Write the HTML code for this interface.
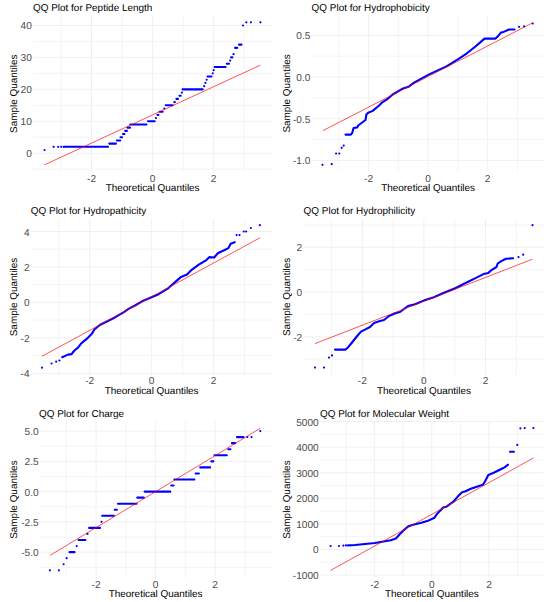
<!DOCTYPE html><html><head><meta charset="utf-8"><style>html,body{margin:0;padding:0;background:#fff;}svg{display:block;}text{font-family:"Liberation Sans",sans-serif;text-rendering:geometricPrecision;}</style></head><body>
<svg width="550" height="602" viewBox="0 0 550 602"><rect width="550" height="602" fill="#fff"/>
<line x1="60.98" y1="15.2" x2="60.98" y2="172.3" stroke="#f3f3f3" stroke-width="0.9"/>
<line x1="122.06" y1="15.2" x2="122.06" y2="172.3" stroke="#f3f3f3" stroke-width="0.9"/>
<line x1="183.14" y1="15.2" x2="183.14" y2="172.3" stroke="#f3f3f3" stroke-width="0.9"/>
<line x1="244.22" y1="15.2" x2="244.22" y2="172.3" stroke="#f3f3f3" stroke-width="0.9"/>
<line x1="33" y1="169.16" x2="272.3" y2="169.16" stroke="#f3f3f3" stroke-width="0.9"/>
<line x1="33" y1="137.23" x2="272.3" y2="137.23" stroke="#f3f3f3" stroke-width="0.9"/>
<line x1="33" y1="105.3" x2="272.3" y2="105.3" stroke="#f3f3f3" stroke-width="0.9"/>
<line x1="33" y1="73.37" x2="272.3" y2="73.37" stroke="#f3f3f3" stroke-width="0.9"/>
<line x1="33" y1="41.44" x2="272.3" y2="41.44" stroke="#f3f3f3" stroke-width="0.9"/>
<line x1="91.52" y1="15.2" x2="91.52" y2="172.3" stroke="#f0f0f0" stroke-width="1.0"/>
<line x1="152.6" y1="15.2" x2="152.6" y2="172.3" stroke="#f0f0f0" stroke-width="1.0"/>
<line x1="213.68" y1="15.2" x2="213.68" y2="172.3" stroke="#f0f0f0" stroke-width="1.0"/>
<line x1="33" y1="153.2" x2="272.3" y2="153.2" stroke="#f0f0f0" stroke-width="1.0"/>
<line x1="33" y1="121.27" x2="272.3" y2="121.27" stroke="#f0f0f0" stroke-width="1.0"/>
<line x1="33" y1="89.34" x2="272.3" y2="89.34" stroke="#f0f0f0" stroke-width="1.0"/>
<line x1="33" y1="57.41" x2="272.3" y2="57.41" stroke="#f0f0f0" stroke-width="1.0"/>
<line x1="33" y1="25.48" x2="272.3" y2="25.48" stroke="#f0f0f0" stroke-width="1.0"/>
<text x="31.8" y="157.19" text-anchor="end" fill="#4d4d4d" font-size="10.1">0</text>
<text x="31.8" y="125.26" text-anchor="end" fill="#4d4d4d" font-size="10.1">10</text>
<text x="31.8" y="93.33" text-anchor="end" fill="#4d4d4d" font-size="10.1">20</text>
<text x="31.8" y="61.4" text-anchor="end" fill="#4d4d4d" font-size="10.1">30</text>
<text x="31.8" y="29.47" text-anchor="end" fill="#4d4d4d" font-size="10.1">40</text>
<text x="91.52" y="181.6" text-anchor="middle" fill="#4d4d4d" font-size="10.1">-2</text>
<text x="152.6" y="181.6" text-anchor="middle" fill="#4d4d4d" font-size="10.1">0</text>
<text x="213.68" y="181.6" text-anchor="middle" fill="#4d4d4d" font-size="10.1">2</text>
<text x="33" y="11.2" font-size="9.95" fill="#000">QQ Plot for Peptide Length</text>
<text x="152.65" y="191.3" text-anchor="middle" font-size="9.95" fill="#000">Theoretical Quantiles</text>
<text transform="translate(17.3,93.75) rotate(-90)" text-anchor="middle" font-size="9.95" fill="#000">Sample Quantiles</text>
<g fill="#0000ff"><circle cx="44.49" cy="150.01" r="1.1"/>
<circle cx="53.65" cy="146.81" r="1.1"/>
<circle cx="58.23" cy="146.81" r="1.1"/>
<circle cx="61.29" cy="146.81" r="1.1"/>
<circle cx="63.73" cy="146.81" r="1.1"/>
<circle cx="243" cy="25.48" r="1.1"/>
<circle cx="246.36" cy="22.29" r="1.1"/>
<circle cx="250.94" cy="22.29" r="1.1"/>
<circle cx="260.41" cy="22.29" r="1.1"/>
<circle cx="204.21" cy="86.15" r="1.1"/>
<circle cx="205.43" cy="82.95" r="1.1"/>
<circle cx="230.17" cy="60.6" r="1.1"/>
<circle cx="233.53" cy="54.22" r="1.1"/>
<circle cx="155.96" cy="118.08" r="1.1"/>
<circle cx="164.21" cy="108.5" r="1.1"/>
<circle cx="181.92" cy="92.53" r="1.1"/>
<circle cx="212.76" cy="73.37" r="1.1"/>
<circle cx="213.68" cy="70.18" r="1.1"/>
<circle cx="206.66" cy="79.76" r="1.1"/>
<line x1="64.64" y1="146.81" x2="108.01" y2="146.81" stroke="#0000ff" stroke-width="2.1" stroke-linecap="round"/>
<line x1="109.23" y1="143.62" x2="115.95" y2="143.62" stroke="#0000ff" stroke-width="2.1" stroke-linecap="round"/>
<line x1="116.87" y1="140.43" x2="120.23" y2="140.43" stroke="#0000ff" stroke-width="2.1" stroke-linecap="round"/>
<line x1="120.53" y1="137.23" x2="122.06" y2="137.23" stroke="#0000ff" stroke-width="2.1" stroke-linecap="round"/>
<line x1="122.98" y1="134.04" x2="124.5" y2="134.04" stroke="#0000ff" stroke-width="2.1" stroke-linecap="round"/>
<line x1="125.11" y1="130.85" x2="126.95" y2="130.85" stroke="#0000ff" stroke-width="2.1" stroke-linecap="round"/>
<line x1="127.56" y1="127.66" x2="130" y2="127.66" stroke="#0000ff" stroke-width="2.1" stroke-linecap="round"/>
<line x1="130.31" y1="124.46" x2="146.49" y2="124.46" stroke="#0000ff" stroke-width="2.1" stroke-linecap="round"/>
<line x1="148.02" y1="121.27" x2="154.74" y2="121.27" stroke="#0000ff" stroke-width="2.1" stroke-linecap="round"/>
<line x1="157.49" y1="114.88" x2="158.4" y2="114.88" stroke="#0000ff" stroke-width="2.1" stroke-linecap="round"/>
<line x1="159.62" y1="111.69" x2="162.68" y2="111.69" stroke="#0000ff" stroke-width="2.1" stroke-linecap="round"/>
<line x1="165.73" y1="105.3" x2="172.76" y2="105.3" stroke="#0000ff" stroke-width="2.1" stroke-linecap="round"/>
<line x1="174.28" y1="102.11" x2="174.89" y2="102.11" stroke="#0000ff" stroke-width="2.1" stroke-linecap="round"/>
<line x1="176.42" y1="98.92" x2="177.95" y2="98.92" stroke="#0000ff" stroke-width="2.1" stroke-linecap="round"/>
<line x1="179.48" y1="95.73" x2="180.7" y2="95.73" stroke="#0000ff" stroke-width="2.1" stroke-linecap="round"/>
<line x1="182.53" y1="89.34" x2="202.69" y2="89.34" stroke="#0000ff" stroke-width="2.1" stroke-linecap="round"/>
<line x1="207.57" y1="76.57" x2="211.54" y2="76.57" stroke="#0000ff" stroke-width="2.1" stroke-linecap="round"/>
<line x1="214.6" y1="66.99" x2="225.59" y2="66.99" stroke="#0000ff" stroke-width="2.1" stroke-linecap="round"/>
<line x1="226.81" y1="63.8" x2="228.95" y2="63.8" stroke="#0000ff" stroke-width="2.1" stroke-linecap="round"/>
<line x1="231.09" y1="57.41" x2="232.31" y2="57.41" stroke="#0000ff" stroke-width="2.1" stroke-linecap="round"/>
<line x1="235.06" y1="47.83" x2="237.2" y2="47.83" stroke="#0000ff" stroke-width="2.1" stroke-linecap="round"/>
<line x1="239.03" y1="44.64" x2="241.47" y2="44.64" stroke="#0000ff" stroke-width="2.1" stroke-linecap="round"/></g>
<line x1="44.49" y1="164.82" x2="260.41" y2="65.11" stroke="#ff0000" stroke-width="0.9" stroke-opacity="0.75"/>
<line x1="338.73" y1="15.5" x2="338.73" y2="171.3" stroke="#f3f3f3" stroke-width="0.9"/>
<line x1="398.31" y1="15.5" x2="398.31" y2="171.3" stroke="#f3f3f3" stroke-width="0.9"/>
<line x1="457.89" y1="15.5" x2="457.89" y2="171.3" stroke="#f3f3f3" stroke-width="0.9"/>
<line x1="517.47" y1="15.5" x2="517.47" y2="171.3" stroke="#f3f3f3" stroke-width="0.9"/>
<line x1="311.6" y1="139.5" x2="544.6" y2="139.5" stroke="#f3f3f3" stroke-width="0.9"/>
<line x1="311.6" y1="97.83" x2="544.6" y2="97.83" stroke="#f3f3f3" stroke-width="0.9"/>
<line x1="311.6" y1="56.17" x2="544.6" y2="56.17" stroke="#f3f3f3" stroke-width="0.9"/>
<line x1="368.52" y1="15.5" x2="368.52" y2="171.3" stroke="#f0f0f0" stroke-width="1.0"/>
<line x1="428.1" y1="15.5" x2="428.1" y2="171.3" stroke="#f0f0f0" stroke-width="1.0"/>
<line x1="487.68" y1="15.5" x2="487.68" y2="171.3" stroke="#f0f0f0" stroke-width="1.0"/>
<line x1="311.6" y1="160.33" x2="544.6" y2="160.33" stroke="#f0f0f0" stroke-width="1.0"/>
<line x1="311.6" y1="118.66" x2="544.6" y2="118.66" stroke="#f0f0f0" stroke-width="1.0"/>
<line x1="311.6" y1="77" x2="544.6" y2="77" stroke="#f0f0f0" stroke-width="1.0"/>
<line x1="311.6" y1="35.34" x2="544.6" y2="35.34" stroke="#f0f0f0" stroke-width="1.0"/>
<text x="310.4" y="164.32" text-anchor="end" fill="#4d4d4d" font-size="10.1">-1.0</text>
<text x="310.4" y="122.65" text-anchor="end" fill="#4d4d4d" font-size="10.1">-0.5</text>
<text x="310.4" y="80.99" text-anchor="end" fill="#4d4d4d" font-size="10.1">0.0</text>
<text x="310.4" y="39.32" text-anchor="end" fill="#4d4d4d" font-size="10.1">0.5</text>
<text x="368.52" y="181.6" text-anchor="middle" fill="#4d4d4d" font-size="10.1">-2</text>
<text x="428.1" y="181.6" text-anchor="middle" fill="#4d4d4d" font-size="10.1">0</text>
<text x="487.68" y="181.6" text-anchor="middle" fill="#4d4d4d" font-size="10.1">2</text>
<text x="311.6" y="11.2" font-size="9.95" fill="#000">QQ Plot for Hydrophobicity</text>
<text x="428.1" y="191.3" text-anchor="middle" font-size="9.95" fill="#000">Theoretical Quantiles</text>
<text transform="translate(290,93.4) rotate(-90)" text-anchor="middle" font-size="9.95" fill="#000">Sample Quantiles</text>
<g fill="#0000ff"><circle cx="322.5" cy="164.8" r="1.1"/>
<circle cx="331.7" cy="164.2" r="1.1"/>
<circle cx="336.1" cy="153.5" r="1.1"/>
<circle cx="339.3" cy="153.5" r="1.1"/>
<circle cx="341.7" cy="147.8" r="1.1"/>
<circle cx="343.7" cy="145.6" r="1.1"/>
<circle cx="519.1" cy="26.8" r="1.1"/>
<circle cx="524" cy="26.3" r="1.1"/>
<circle cx="532.7" cy="23.5" r="1.1"/>
<polyline points="345.5,134.6 350.8,134.6 352.2,133 353.6,128 357.3,127.4 358.2,125.5 365.5,120 366.4,114.5 368.2,112.7 372.7,110.9 379.1,105.5 381.8,102.7 387.3,99.1 392.7,94.5 401.8,89.1 409.1,86.4 412.7,83.6 414.5,82.4 429.1,74.4 446.5,66.4 458.2,59.1 466.9,53.3 474.5,47.2 480,42.6 484.5,38.6 495.5,38.6 498.2,35.9 500.9,32.6 503.6,31.9 509.1,29.5 514.5,29.5" fill="none" stroke="#0000ff" stroke-width="2.1" stroke-linecap="round" stroke-linejoin="round"/></g>
<line x1="323" y1="130.6" x2="532.7" y2="22.8" stroke="#ff0000" stroke-width="0.9" stroke-opacity="0.75"/>
<line x1="58.74" y1="218.8" x2="58.74" y2="375.3" stroke="#f3f3f3" stroke-width="0.9"/>
<line x1="120.68" y1="218.8" x2="120.68" y2="375.3" stroke="#f3f3f3" stroke-width="0.9"/>
<line x1="182.62" y1="218.8" x2="182.62" y2="375.3" stroke="#f3f3f3" stroke-width="0.9"/>
<line x1="244.56" y1="218.8" x2="244.56" y2="375.3" stroke="#f3f3f3" stroke-width="0.9"/>
<line x1="30.8" y1="355.48" x2="272.5" y2="355.48" stroke="#f3f3f3" stroke-width="0.9"/>
<line x1="30.8" y1="320.06" x2="272.5" y2="320.06" stroke="#f3f3f3" stroke-width="0.9"/>
<line x1="30.8" y1="284.64" x2="272.5" y2="284.64" stroke="#f3f3f3" stroke-width="0.9"/>
<line x1="30.8" y1="249.22" x2="272.5" y2="249.22" stroke="#f3f3f3" stroke-width="0.9"/>
<line x1="89.71" y1="218.8" x2="89.71" y2="375.3" stroke="#f0f0f0" stroke-width="1.0"/>
<line x1="151.65" y1="218.8" x2="151.65" y2="375.3" stroke="#f0f0f0" stroke-width="1.0"/>
<line x1="213.59" y1="218.8" x2="213.59" y2="375.3" stroke="#f0f0f0" stroke-width="1.0"/>
<line x1="30.8" y1="373.19" x2="272.5" y2="373.19" stroke="#f0f0f0" stroke-width="1.0"/>
<line x1="30.8" y1="337.77" x2="272.5" y2="337.77" stroke="#f0f0f0" stroke-width="1.0"/>
<line x1="30.8" y1="302.35" x2="272.5" y2="302.35" stroke="#f0f0f0" stroke-width="1.0"/>
<line x1="30.8" y1="266.93" x2="272.5" y2="266.93" stroke="#f0f0f0" stroke-width="1.0"/>
<line x1="30.8" y1="231.51" x2="272.5" y2="231.51" stroke="#f0f0f0" stroke-width="1.0"/>
<text x="29.6" y="377.18" text-anchor="end" fill="#4d4d4d" font-size="10.1">-4</text>
<text x="29.6" y="341.76" text-anchor="end" fill="#4d4d4d" font-size="10.1">-2</text>
<text x="29.6" y="306.34" text-anchor="end" fill="#4d4d4d" font-size="10.1">0</text>
<text x="29.6" y="270.92" text-anchor="end" fill="#4d4d4d" font-size="10.1">2</text>
<text x="29.6" y="235.5" text-anchor="end" fill="#4d4d4d" font-size="10.1">4</text>
<text x="89.71" y="384.2" text-anchor="middle" fill="#4d4d4d" font-size="10.1">-2</text>
<text x="151.65" y="384.2" text-anchor="middle" fill="#4d4d4d" font-size="10.1">0</text>
<text x="213.59" y="384.2" text-anchor="middle" fill="#4d4d4d" font-size="10.1">2</text>
<text x="30.8" y="214.4" font-size="9.95" fill="#000">QQ Plot for Hydropathicity</text>
<text x="151.65" y="393.8" text-anchor="middle" font-size="9.95" fill="#000">Theoretical Quantiles</text>
<text transform="translate(17.3,297.05) rotate(-90)" text-anchor="middle" font-size="9.95" fill="#000">Sample Quantiles</text>
<g fill="#0000ff"><circle cx="42" cy="367.7" r="1.1"/>
<circle cx="51.6" cy="363.5" r="1.1"/>
<circle cx="56.2" cy="361.7" r="1.1"/>
<circle cx="59.5" cy="360.5" r="1.1"/>
<circle cx="236.6" cy="235.1" r="1.1"/>
<circle cx="239.5" cy="235.1" r="1.1"/>
<circle cx="243.7" cy="231.5" r="1.1"/>
<circle cx="246.1" cy="231.5" r="1.1"/>
<circle cx="250.8" cy="228" r="1.1"/>
<circle cx="259.8" cy="225.2" r="1.1"/>
<polyline points="62.2,357.2 65.3,355.9 68,354.6 71.6,354.1 74.4,350.5 78,347.7 80.7,344.1 83.5,341.4 87.1,338.6 91.6,334.1 94.4,329.5 99.8,325 105.3,322.3 114.4,317.7 123.5,312.3 129,308.6 135,305.5 142.1,301.3 151.5,297.3 158.6,294.2 168.1,288.3 174,283.1 181.1,276.9 187,274.6 191.7,269.8 198.8,264.6 205.9,260.4 209.5,257.1 214.2,257.5 217.7,253.3 223.6,250.5 228.4,248.1 230.7,243.8 234.7,242.2" fill="none" stroke="#0000ff" stroke-width="2.1" stroke-linecap="round" stroke-linejoin="round"/></g>
<line x1="42" y1="356.3" x2="259.8" y2="237.9" stroke="#ff0000" stroke-width="0.9" stroke-opacity="0.75"/>
<line x1="331.53" y1="218.8" x2="331.53" y2="375" stroke="#f3f3f3" stroke-width="0.9"/>
<line x1="393.11" y1="218.8" x2="393.11" y2="375" stroke="#f3f3f3" stroke-width="0.9"/>
<line x1="454.69" y1="218.8" x2="454.69" y2="375" stroke="#f3f3f3" stroke-width="0.9"/>
<line x1="516.27" y1="218.8" x2="516.27" y2="375" stroke="#f3f3f3" stroke-width="0.9"/>
<line x1="303.6" y1="359.1" x2="544.3" y2="359.1" stroke="#f3f3f3" stroke-width="0.9"/>
<line x1="303.6" y1="314.4" x2="544.3" y2="314.4" stroke="#f3f3f3" stroke-width="0.9"/>
<line x1="303.6" y1="269.7" x2="544.3" y2="269.7" stroke="#f3f3f3" stroke-width="0.9"/>
<line x1="303.6" y1="225" x2="544.3" y2="225" stroke="#f3f3f3" stroke-width="0.9"/>
<line x1="362.32" y1="218.8" x2="362.32" y2="375" stroke="#f0f0f0" stroke-width="1.0"/>
<line x1="423.9" y1="218.8" x2="423.9" y2="375" stroke="#f0f0f0" stroke-width="1.0"/>
<line x1="485.48" y1="218.8" x2="485.48" y2="375" stroke="#f0f0f0" stroke-width="1.0"/>
<line x1="303.6" y1="336.75" x2="544.3" y2="336.75" stroke="#f0f0f0" stroke-width="1.0"/>
<line x1="303.6" y1="292.05" x2="544.3" y2="292.05" stroke="#f0f0f0" stroke-width="1.0"/>
<line x1="303.6" y1="247.35" x2="544.3" y2="247.35" stroke="#f0f0f0" stroke-width="1.0"/>
<text x="302.2" y="340.74" text-anchor="end" fill="#4d4d4d" font-size="10.1">-2</text>
<text x="302.2" y="296.04" text-anchor="end" fill="#4d4d4d" font-size="10.1">0</text>
<text x="302.2" y="251.34" text-anchor="end" fill="#4d4d4d" font-size="10.1">2</text>
<text x="362.32" y="384.2" text-anchor="middle" fill="#4d4d4d" font-size="10.1">-2</text>
<text x="423.9" y="384.2" text-anchor="middle" fill="#4d4d4d" font-size="10.1">0</text>
<text x="485.48" y="384.2" text-anchor="middle" fill="#4d4d4d" font-size="10.1">2</text>
<text x="303.6" y="214.2" font-size="9.95" fill="#000">QQ Plot for Hydrophilicity</text>
<text x="423.95" y="393.8" text-anchor="middle" font-size="9.95" fill="#000">Theoretical Quantiles</text>
<text transform="translate(290,296.9) rotate(-90)" text-anchor="middle" font-size="9.95" fill="#000">Sample Quantiles</text>
<g fill="#0000ff"><circle cx="315" cy="367.6" r="1.1"/>
<circle cx="324" cy="367.6" r="1.1"/>
<circle cx="329" cy="357.6" r="1.1"/>
<circle cx="332" cy="355.4" r="1.1"/>
<circle cx="518.5" cy="257.1" r="1.1"/>
<circle cx="523.2" cy="254.7" r="1.1"/>
<circle cx="532.5" cy="225.2" r="1.1"/>
<polyline points="335,349.6 345.6,349.6 348,347.4 350,345 354,340 358,335 361,331.6 365,329.6 370,327 374,323 380,321 384,320 389,316 396,313 400,312 404,309 408,306 415,304.3 423.7,300.6 433.9,297.3 443.4,293 455.2,288.3 464.6,283.5 476.5,277.6 483.5,274.1 488.3,272.9 491.8,269.8 496.5,267 497.7,263.5 501.3,261.1 506,258.7 513.1,258.3" fill="none" stroke="#0000ff" stroke-width="2.1" stroke-linecap="round" stroke-linejoin="round"/></g>
<line x1="315" y1="343.6" x2="532.5" y2="259.2" stroke="#ff0000" stroke-width="0.9" stroke-opacity="0.75"/>
<line x1="66.23" y1="421.2" x2="66.23" y2="578" stroke="#f3f3f3" stroke-width="0.9"/>
<line x1="125.81" y1="421.2" x2="125.81" y2="578" stroke="#f3f3f3" stroke-width="0.9"/>
<line x1="185.39" y1="421.2" x2="185.39" y2="578" stroke="#f3f3f3" stroke-width="0.9"/>
<line x1="244.97" y1="421.2" x2="244.97" y2="578" stroke="#f3f3f3" stroke-width="0.9"/>
<line x1="39" y1="567.27" x2="272.2" y2="567.27" stroke="#f3f3f3" stroke-width="0.9"/>
<line x1="39" y1="537" x2="272.2" y2="537" stroke="#f3f3f3" stroke-width="0.9"/>
<line x1="39" y1="506.73" x2="272.2" y2="506.73" stroke="#f3f3f3" stroke-width="0.9"/>
<line x1="39" y1="476.47" x2="272.2" y2="476.47" stroke="#f3f3f3" stroke-width="0.9"/>
<line x1="39" y1="446.2" x2="272.2" y2="446.2" stroke="#f3f3f3" stroke-width="0.9"/>
<line x1="96.02" y1="421.2" x2="96.02" y2="578" stroke="#f0f0f0" stroke-width="1.0"/>
<line x1="155.6" y1="421.2" x2="155.6" y2="578" stroke="#f0f0f0" stroke-width="1.0"/>
<line x1="215.18" y1="421.2" x2="215.18" y2="578" stroke="#f0f0f0" stroke-width="1.0"/>
<line x1="39" y1="552.13" x2="272.2" y2="552.13" stroke="#f0f0f0" stroke-width="1.0"/>
<line x1="39" y1="521.87" x2="272.2" y2="521.87" stroke="#f0f0f0" stroke-width="1.0"/>
<line x1="39" y1="491.6" x2="272.2" y2="491.6" stroke="#f0f0f0" stroke-width="1.0"/>
<line x1="39" y1="461.33" x2="272.2" y2="461.33" stroke="#f0f0f0" stroke-width="1.0"/>
<line x1="39" y1="431.07" x2="272.2" y2="431.07" stroke="#f0f0f0" stroke-width="1.0"/>
<text x="38.6" y="556.12" text-anchor="end" fill="#4d4d4d" font-size="10.1">-5.0</text>
<text x="38.6" y="525.85" text-anchor="end" fill="#4d4d4d" font-size="10.1">-2.5</text>
<text x="38.6" y="495.59" text-anchor="end" fill="#4d4d4d" font-size="10.1">0.0</text>
<text x="38.6" y="465.32" text-anchor="end" fill="#4d4d4d" font-size="10.1">2.5</text>
<text x="38.6" y="435.05" text-anchor="end" fill="#4d4d4d" font-size="10.1">5.0</text>
<text x="96.02" y="587.8" text-anchor="middle" fill="#4d4d4d" font-size="10.1">-2</text>
<text x="155.6" y="587.8" text-anchor="middle" fill="#4d4d4d" font-size="10.1">0</text>
<text x="215.18" y="587.8" text-anchor="middle" fill="#4d4d4d" font-size="10.1">2</text>
<text x="39" y="417" font-size="9.95" fill="#000">QQ Plot for Charge</text>
<text x="155.6" y="597.3" text-anchor="middle" font-size="9.95" fill="#000">Theoretical Quantiles</text>
<text transform="translate(17.3,499.6) rotate(-90)" text-anchor="middle" font-size="9.95" fill="#000">Sample Quantiles</text>
<g fill="#0000ff"><circle cx="49.9" cy="570.3" r="1.1"/>
<circle cx="58.9" cy="570.3" r="1.1"/>
<circle cx="63.6" cy="564.24" r="1.1"/>
<circle cx="66.6" cy="558.19" r="1.1"/>
<circle cx="76.7" cy="546.08" r="1.1"/>
<circle cx="87.5" cy="533.97" r="1.1"/>
<circle cx="101.5" cy="521.87" r="1.1"/>
<circle cx="247.3" cy="437.12" r="1.1"/>
<circle cx="251.6" cy="437.12" r="1.1"/>
<circle cx="260.3" cy="431.07" r="1.1"/>
<line x1="69.5" y1="552.13" x2="74.5" y2="552.13" stroke="#0000ff" stroke-width="2.1" stroke-linecap="round"/>
<line x1="78.6" y1="540.03" x2="85.4" y2="540.03" stroke="#0000ff" stroke-width="2.1" stroke-linecap="round"/>
<line x1="89.1" y1="527.92" x2="100" y2="527.92" stroke="#0000ff" stroke-width="2.1" stroke-linecap="round"/>
<line x1="102.2" y1="515.81" x2="113.9" y2="515.81" stroke="#0000ff" stroke-width="2.1" stroke-linecap="round"/>
<line x1="114.7" y1="509.76" x2="116.9" y2="509.76" stroke="#0000ff" stroke-width="2.1" stroke-linecap="round"/>
<line x1="117.9" y1="503.71" x2="136.5" y2="503.71" stroke="#0000ff" stroke-width="2.1" stroke-linecap="round"/>
<line x1="137.3" y1="497.65" x2="143.8" y2="497.65" stroke="#0000ff" stroke-width="2.1" stroke-linecap="round"/>
<line x1="144.6" y1="491.6" x2="170.3" y2="491.6" stroke="#0000ff" stroke-width="2.1" stroke-linecap="round"/>
<line x1="171.2" y1="485.55" x2="173.6" y2="485.55" stroke="#0000ff" stroke-width="2.1" stroke-linecap="round"/>
<line x1="174.4" y1="479.49" x2="194.4" y2="479.49" stroke="#0000ff" stroke-width="2.1" stroke-linecap="round"/>
<line x1="195.6" y1="473.44" x2="198.9" y2="473.44" stroke="#0000ff" stroke-width="2.1" stroke-linecap="round"/>
<line x1="200.2" y1="467.39" x2="210.1" y2="467.39" stroke="#0000ff" stroke-width="2.1" stroke-linecap="round"/>
<line x1="211.3" y1="461.33" x2="213.4" y2="461.33" stroke="#0000ff" stroke-width="2.1" stroke-linecap="round"/>
<line x1="214.5" y1="455.28" x2="226.8" y2="455.28" stroke="#0000ff" stroke-width="2.1" stroke-linecap="round"/>
<line x1="228.3" y1="449.23" x2="230.4" y2="449.23" stroke="#0000ff" stroke-width="2.1" stroke-linecap="round"/>
<line x1="231.9" y1="443.17" x2="235.1" y2="443.17" stroke="#0000ff" stroke-width="2.1" stroke-linecap="round"/>
<line x1="237" y1="437.12" x2="243.5" y2="437.12" stroke="#0000ff" stroke-width="2.1" stroke-linecap="round"/></g>
<line x1="50.2" y1="555.3" x2="260.3" y2="428.3" stroke="#ff0000" stroke-width="0.9" stroke-opacity="0.75"/>
<line x1="346.06" y1="421.2" x2="346.06" y2="578" stroke="#f3f3f3" stroke-width="0.9"/>
<line x1="403.22" y1="421.2" x2="403.22" y2="578" stroke="#f3f3f3" stroke-width="0.9"/>
<line x1="460.38" y1="421.2" x2="460.38" y2="578" stroke="#f3f3f3" stroke-width="0.9"/>
<line x1="517.54" y1="421.2" x2="517.54" y2="578" stroke="#f3f3f3" stroke-width="0.9"/>
<line x1="320" y1="562.18" x2="543.7" y2="562.18" stroke="#f3f3f3" stroke-width="0.9"/>
<line x1="320" y1="536.62" x2="543.7" y2="536.62" stroke="#f3f3f3" stroke-width="0.9"/>
<line x1="320" y1="511.05" x2="543.7" y2="511.05" stroke="#f3f3f3" stroke-width="0.9"/>
<line x1="320" y1="485.48" x2="543.7" y2="485.48" stroke="#f3f3f3" stroke-width="0.9"/>
<line x1="320" y1="459.92" x2="543.7" y2="459.92" stroke="#f3f3f3" stroke-width="0.9"/>
<line x1="320" y1="434.35" x2="543.7" y2="434.35" stroke="#f3f3f3" stroke-width="0.9"/>
<line x1="374.64" y1="421.2" x2="374.64" y2="578" stroke="#f0f0f0" stroke-width="1.0"/>
<line x1="431.8" y1="421.2" x2="431.8" y2="578" stroke="#f0f0f0" stroke-width="1.0"/>
<line x1="488.96" y1="421.2" x2="488.96" y2="578" stroke="#f0f0f0" stroke-width="1.0"/>
<line x1="320" y1="574.97" x2="543.7" y2="574.97" stroke="#f0f0f0" stroke-width="1.0"/>
<line x1="320" y1="549.4" x2="543.7" y2="549.4" stroke="#f0f0f0" stroke-width="1.0"/>
<line x1="320" y1="523.83" x2="543.7" y2="523.83" stroke="#f0f0f0" stroke-width="1.0"/>
<line x1="320" y1="498.27" x2="543.7" y2="498.27" stroke="#f0f0f0" stroke-width="1.0"/>
<line x1="320" y1="472.7" x2="543.7" y2="472.7" stroke="#f0f0f0" stroke-width="1.0"/>
<line x1="320" y1="447.13" x2="543.7" y2="447.13" stroke="#f0f0f0" stroke-width="1.0"/>
<line x1="320" y1="421.56" x2="543.7" y2="421.56" stroke="#f0f0f0" stroke-width="1.0"/>
<text x="318.7" y="578.95" text-anchor="end" fill="#4d4d4d" font-size="10.1">-1000</text>
<text x="318.7" y="553.39" text-anchor="end" fill="#4d4d4d" font-size="10.1">0</text>
<text x="318.7" y="527.82" text-anchor="end" fill="#4d4d4d" font-size="10.1">1000</text>
<text x="318.7" y="502.25" text-anchor="end" fill="#4d4d4d" font-size="10.1">2000</text>
<text x="318.7" y="476.68" text-anchor="end" fill="#4d4d4d" font-size="10.1">3000</text>
<text x="318.7" y="451.12" text-anchor="end" fill="#4d4d4d" font-size="10.1">4000</text>
<text x="318.7" y="425.55" text-anchor="end" fill="#4d4d4d" font-size="10.1">5000</text>
<text x="374.64" y="587.8" text-anchor="middle" fill="#4d4d4d" font-size="10.1">-2</text>
<text x="431.8" y="587.8" text-anchor="middle" fill="#4d4d4d" font-size="10.1">0</text>
<text x="488.96" y="587.8" text-anchor="middle" fill="#4d4d4d" font-size="10.1">2</text>
<text x="320" y="416.6" font-size="9.95" fill="#000">QQ Plot for Molecular Weight</text>
<text x="431.85" y="597.3" text-anchor="middle" font-size="9.95" fill="#000">Theoretical Quantiles</text>
<text transform="translate(290,499.6) rotate(-90)" text-anchor="middle" font-size="9.95" fill="#000">Sample Quantiles</text>
<g fill="#0000ff"><circle cx="330.6" cy="546" r="1.1"/>
<circle cx="339" cy="546" r="1.1"/>
<circle cx="343.4" cy="545.6" r="1.1"/>
<circle cx="346" cy="545.4" r="1.1"/>
<circle cx="517.3" cy="444.9" r="1.1"/>
<circle cx="520.4" cy="428.3" r="1.1"/>
<circle cx="524.7" cy="428.1" r="1.1"/>
<circle cx="533.4" cy="428.1" r="1.1"/>
<polyline points="348,545.4 355,545 365,544 375,543 385,541.3 390.8,540.3 395.9,538.5 399.5,534.5 403.9,530.1 408.3,526.2 414.1,524.6 421.4,522.8 427.2,521.1 434.5,517.7 437.4,513.4 443.2,507.5 446.1,506.8 453.4,501.7 457.7,496.6 462.1,492.3 465,491.5 470.8,488.8 482.8,484.8 485,481.5 488.3,475 493.7,472.8 500.3,469.5 504.6,467.4 507.9,464.7" fill="none" stroke="#0000ff" stroke-width="2.1" stroke-linecap="round" stroke-linejoin="round"/>
<polyline points="510,451.7 513.9,451.7" fill="none" stroke="#0000ff" stroke-width="2.1" stroke-linecap="round" stroke-linejoin="round"/></g>
<line x1="330.6" y1="570.4" x2="533.4" y2="458" stroke="#ff0000" stroke-width="0.9" stroke-opacity="0.75"/>
</svg></body></html>
